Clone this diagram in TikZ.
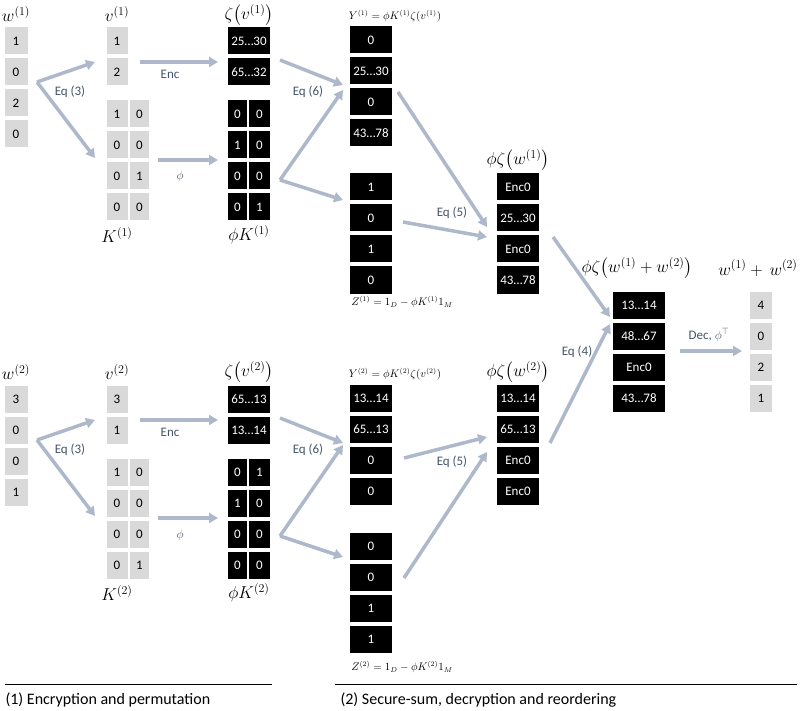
\documentclass[tikz,border=0pt]{standalone}
\usepackage{amsmath}
\usepackage{fontspec}
\setsansfont{Carlito}
\usetikzlibrary{arrows.meta}
\definecolor{cellgray}{RGB}{217,217,217}
\definecolor{flowc}{RGB}{173,185,202}
\definecolor{labc}{RGB}{68,84,106}
\newcommand{\cellcol}[6]{% name, x, y0, width, style, values
  \foreach \t [count=\i] in {#6}
    \node[#5, minimum width=#4] (#1-\i) at (#2, #3+\i*31-31) {\t};}
\begin{document}
\begin{tikzpicture}[x=1pt,y=-1pt,
    gcell/.style={fill=cellgray, minimum height=27, inner sep=0pt, font=\sffamily\fontsize{13}{14}\selectfont},
    bcell/.style={fill=black, text=white, minimum height=27, inner sep=0pt, font=\sffamily\fontsize{13}{14}\selectfont},
    flow/.style={draw=flowc, line width=3.5pt, -{Triangle[width=10pt,length=9pt]}},
    elab/.style={text=labc, font=\sffamily\fontsize{13}{14}\selectfont},
    mlab/.style={font=\fontsize{17}{19}\selectfont},
    slab/.style={font=\fontsize{10.5}{12}\selectfont},
    seccap/.style={anchor=west, font=\sffamily\fontsize{16}{18}\selectfont}]
\useasboundingbox (0,0) rectangle (808,711);

% ---- party 1 ----
\cellcol{wa}{16}{41}{23}{gcell}{1,0,2,0}
\cellcol{va}{117}{41}{21}{gcell}{1,2}
\cellcol{Kaa}{117}{114}{21}{gcell}{1,0,0,0}
\cellcol{Kab}{139.5}{114}{19}{gcell}{0,0,1,0}
\cellcol{za}{249}{41}{42}{bcell}{25…30,65…32}
\cellcol{pKaa}{237.5}{114}{19}{bcell}{0,1,0,0}
\cellcol{pKab}{259.5}{114}{21}{bcell}{0,0,0,1}
\cellcol{Ya}{371}{40}{42}{bcell}{0,25…30,0,43…78}
\cellcol{Za}{371}{187}{42}{bcell}{1,0,1,0}
\cellcol{pza}{518}{187}{42}{bcell}{Enc0,25…30,Enc0,43…78}

% ---- party 2 ----
\cellcol{wb}{16}{399}{23}{gcell}{3,0,0,1}
\cellcol{vb}{117}{399}{21}{gcell}{3,1}
\cellcol{Kba}{117}{472}{21}{gcell}{1,0,0,0}
\cellcol{Kbb}{139.5}{472}{19}{gcell}{0,0,0,1}
\cellcol{zb}{249}{399}{42}{bcell}{65…13,13…14}
\cellcol{pKba}{237.5}{472}{19}{bcell}{0,1,0,0}
\cellcol{pKbb}{259.5}{472}{21}{bcell}{1,0,0,0}
\cellcol{Yb}{371}{398}{42}{bcell}{13…14,65…13,0,0}
\cellcol{Zb}{371}{546}{42}{bcell}{0,0,1,1}
\cellcol{pzb}{518}{398}{42}{bcell}{13…14,65…13,Enc0,Enc0}

% ---- sum and result ----
\cellcol{sm}{639}{305}{52}{bcell}{13…14,48…67,Enc0,43…78}
\cellcol{res}{761}{305}{22}{gcell}{4,0,2,1}

% ---- titles ----
\node[mlab] (tw1) at (16,14) {$w^{(1)}$};
\node[mlab] (tv1) at (117,14) {$v^{(1)}$};
\node[mlab] (tz1) at (249,15) {$\zeta\big(v^{(1)}\big)$};
\node[slab] (tY1) at (395,16) {$Y^{(1)}=\phi K^{(1)}\zeta(v^{(1)})$};
\node[mlab] (tK1) at (117,235) {$K^{(1)}$};
\node[mlab] (tpK1) at (249,235) {$\phi K^{(1)}$};
\node[slab] (tZ1) at (402,302) {$Z^{(1)}=1_D-\phi K^{(1)}1_M$};
\node[mlab] (tpz1) at (518,160) {$\phi\zeta\big(w^{(1)}\big)$};
\node[mlab] (tw2) at (16,372) {$w^{(2)}$};
\node[mlab] (tv2) at (117,372) {$v^{(2)}$};
\node[mlab] (tz2) at (249,372) {$\zeta\big(v^{(2)}\big)$};
\node[slab] (tY2) at (395,374) {$Y^{(2)}=\phi K^{(2)}\zeta(v^{(2)})$};
\node[mlab] (tK2) at (117,593) {$K^{(2)}$};
\node[mlab] (tpK2) at (249,593) {$\phi K^{(2)}$};
\node[slab] (tZ2) at (402,667) {$Z^{(2)}=1_D-\phi K^{(2)}1_M$};
\node[mlab] (tpz2) at (518,372) {$\phi\zeta\big(w^{(2)}\big)$};
\node[mlab] (tsm) at (637,268) {$\phi\zeta\big(w^{(1)}+w^{(2)}\big)$};
\node[mlab] (tres) at (758,268) {$w^{(1)}+\,w^{(2)}$};

% ---- connector end points ----
\coordinate (s3a) at (37,82);   \coordinate (e3a) at (95,62);  \coordinate (f3a) at (95,158);
\coordinate (sEa) at (140,62);  \coordinate (eEa) at (218,62);
\coordinate (sPa) at (158,160); \coordinate (ePa) at (218,160);
\coordinate (s6a) at (280,60);  \coordinate (e6a) at (343,85);
\coordinate (t6a) at (280,180); \coordinate (u6a) at (343,90); \coordinate (v6a) at (343,200);
\coordinate (s5a) at (398,92);  \coordinate (e5a) at (487,227);
\coordinate (t5a) at (403,222); \coordinate (u5a) at (487,237);
\coordinate (s3b) at (37,440);  \coordinate (e3b) at (95,420); \coordinate (f3b) at (95,516);
\coordinate (sEb) at (140,420); \coordinate (eEb) at (218,420);
\coordinate (sPb) at (158,518); \coordinate (ePb) at (218,518);
\coordinate (s6b) at (280,418); \coordinate (e6b) at (343,443);
\coordinate (t6b) at (280,536); \coordinate (u6b) at (343,445); \coordinate (v6b) at (343,557);
\coordinate (s5b) at (404,458); \coordinate (e5b) at (487,437);
\coordinate (t5b) at (404,578); \coordinate (u5b) at (487,452);
\coordinate (s4a) at (553,237); \coordinate (s4b) at (550,443);
\coordinate (e4a) at (610,317); \coordinate (e4b) at (610,324);
\coordinate (sD) at (680,351);  \coordinate (eD) at (742,351);

% ---- connectors ----
\draw[flow] (s3a) -- (e3a);  \draw[flow] (s3a) -- (f3a);
\draw[flow] (sEa) -- (eEa);  \draw[flow] (sPa) -- (ePa);
\draw[flow] (s6a) -- (e6a);  \draw[flow] (t6a) -- (u6a);  \draw[flow] (t6a) -- (v6a);
\draw[flow] (s5a) -- (e5a);  \draw[flow] (t5a) -- (u5a);
\draw[flow] (s3b) -- (e3b);  \draw[flow] (s3b) -- (f3b);
\draw[flow] (sEb) -- (eEb);  \draw[flow] (sPb) -- (ePb);
\draw[flow] (s6b) -- (e6b);  \draw[flow] (t6b) -- (u6b);  \draw[flow] (t6b) -- (v6b);
\draw[flow] (s5b) -- (e5b);  \draw[flow] (t5b) -- (u5b);
\draw[flow] (s4a) -- (e4a);  \draw[flow] (s4b) -- (e4b);
\draw[flow] (sD) -- (eD);

% ---- connector labels ----
\node[elab] at (70,92) {Eq (3)};
\node[elab] at (170,74) {Enc};
\node[elab] at (180,177) {$\phi$};
\node[elab] at (308,92) {Eq (6)};
\node[elab] at (452,213) {Eq (5)};
\node[elab] at (70,450) {Eq (3)};
\node[elab] at (170,432) {Enc};
\node[elab] at (180,535) {$\phi$};
\node[elab] at (308,450) {Eq (6)};
\node[elab] at (452,462) {Eq (5)};
\node[elab] at (577,352) {Eq (4)};
\node[elab] at (709,335) {Dec, $\phi^{\top}$};

% ---- sections ----
\draw[line width=0.8pt] (5,684) -- (272,684);
\draw[line width=0.8pt] (335,684) -- (797,684);
\node[seccap] (c1) at (2,700) {(1) Encryption and permutation};
\node[seccap] (c2) at (337,700) {(2) Secure-sum, decryption and reordering};
\end{tikzpicture}
\end{document}
